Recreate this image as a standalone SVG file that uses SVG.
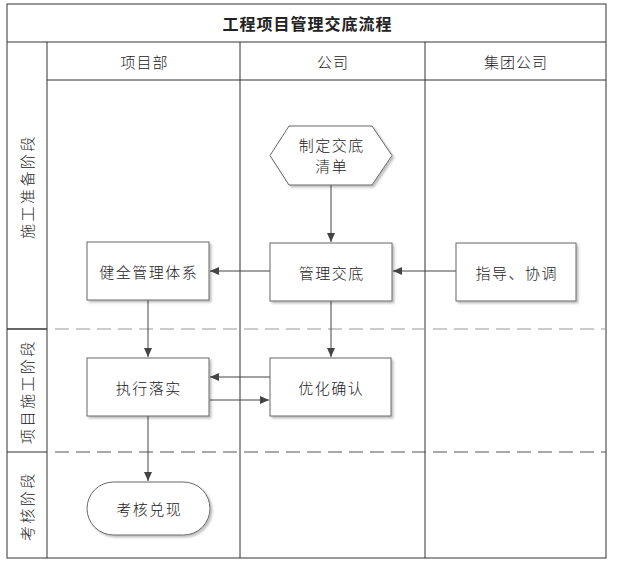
<svg xmlns="http://www.w3.org/2000/svg" width="619" height="565" viewBox="0 0 619 565">
<defs>
<marker id="ah" markerWidth="10" markerHeight="10" refX="9" refY="5" orient="auto" markerUnits="userSpaceOnUse">
<path d="M0,1 L9,5 L0,9 Z" fill="#444"/>
</marker>
<filter id="sh" x="-10%" y="-10%" width="130%" height="130%">
<feOffset dx="1.5" dy="1.5" in="SourceAlpha" result="o"/>
<feGaussianBlur in="o" stdDeviation="1" result="b"/>
<feColorMatrix in="b" type="matrix" values="0 0 0 0 0  0 0 0 0 0  0 0 0 0 0  0 0 0 0.25 0"/>
<feMerge><feMergeNode/><feMergeNode in="SourceGraphic"/></feMerge>
</filter>
</defs>
<style>
text{font-family:"Noto Sans CJK SC","Noto Sans",sans-serif;fill:#222;font-weight:300;}
.t{font-size:15px;letter-spacing:1.5px;text-anchor:middle;dominant-baseline:central;}
.h{font-size:15px;letter-spacing:1px;text-anchor:middle;dominant-baseline:central;}
.v{font-size:15px;letter-spacing:2.5px;text-anchor:middle;dominant-baseline:central;}
.title{font-size:16px;letter-spacing:1px;font-weight:bold;text-anchor:middle;dominant-baseline:central;}
.frame{fill:none;stroke:#333;stroke-width:1;}
.dash{stroke:#888;stroke-width:1.2;stroke-dasharray:14 7;fill:none;}
.node{fill:#fff;stroke:#666;stroke-width:1;filter:url(#sh);}
.conn{stroke:#444;stroke-width:1;fill:none;marker-end:url(#ah);}
</style>
<rect width="619" height="565" fill="#fff"/>
<g id="frame">
<rect class="frame" x="7" y="4" width="599" height="554"/>
<line class="frame" x1="7" y1="42" x2="606" y2="42"/>
<line class="frame" x1="47" y1="80" x2="606" y2="80"/>
<line class="frame" x1="47" y1="42" x2="47" y2="558"/>
<line class="frame" x1="240" y1="42" x2="240" y2="558"/>
<line class="frame" x1="425" y1="42" x2="425" y2="558"/>
<line x1="7" y1="329" x2="47" y2="329" stroke="#333" stroke-width="1.5"/>
<line class="frame" x1="7" y1="452" x2="47" y2="452"/>
<line class="dash" x1="55" y1="329" x2="606" y2="329" style="stroke:#999"/>
<line class="dash" x1="55" y1="452" x2="606" y2="452" style="stroke:#555"/>
<text class="title" x="307.5" y="23">工程项目管理交底流程</text>
<text class="h" x="144.5" y="61">项目部</text>
<text class="h" x="333" y="61">公司</text>
<text class="h" x="516" y="61">集团公司</text>
<text class="v" transform="translate(26,186.5) rotate(-90)">施工准备阶段</text>
<text class="v" transform="translate(26,391.5) rotate(-90)">项目施工阶段</text>
<text class="v" transform="translate(26,506) rotate(-90)">考核阶段</text>
</g>
<g id="connectors">
<line class="conn" x1="331" y1="185" x2="331" y2="242"/>
<line class="conn" x1="456" y1="271" x2="393" y2="271"/>
<line class="conn" x1="270" y1="271" x2="210" y2="271"/>
<line class="conn" x1="148" y1="300" x2="148" y2="357"/>
<line class="conn" x1="331" y1="301" x2="331" y2="357"/>
<line class="conn" x1="270" y1="377" x2="210" y2="377"/>
<line class="conn" x1="210" y1="400" x2="269" y2="400"/>
<line class="conn" x1="148" y1="416" x2="148" y2="481"/>
</g>
<g id="n_zhiding">
<polygon class="node" points="270,155.5 289,126 372,126 392,155.5 372,185 289,185"/>
<text class="t" x="331.75" y="144">制定交底</text>
<text class="t" x="331.75" y="165">清单</text>
</g>
<g id="n_guanli">
<rect class="node" x="270" y="243" width="122" height="58"/>
<text class="t" x="331.75" y="272">管理交底</text>
</g>
<g id="n_zhidao">
<rect class="node" x="456" y="243" width="120" height="58"/>
<text class="t" x="516.75" y="272">指导、协调</text>
</g>
<g id="n_jianquan">
<rect class="node" x="87" y="242" width="122" height="58"/>
<text class="t" x="148.75" y="271">健全管理体系</text>
</g>
<g id="n_zhixing">
<rect class="node" x="87" y="358" width="122" height="58"/>
<text class="t" x="148.75" y="387">执行落实</text>
</g>
<g id="n_youhua">
<rect class="node" x="270" y="358" width="121" height="58"/>
<text class="t" x="331.25" y="387">优化确认</text>
</g>
<g id="n_kaohe">
<rect class="node" x="87" y="482" width="123" height="53" rx="26.5" ry="26.5"/>
<text class="t" x="149.25" y="508.5">考核兑现</text>
</g>
</svg>
